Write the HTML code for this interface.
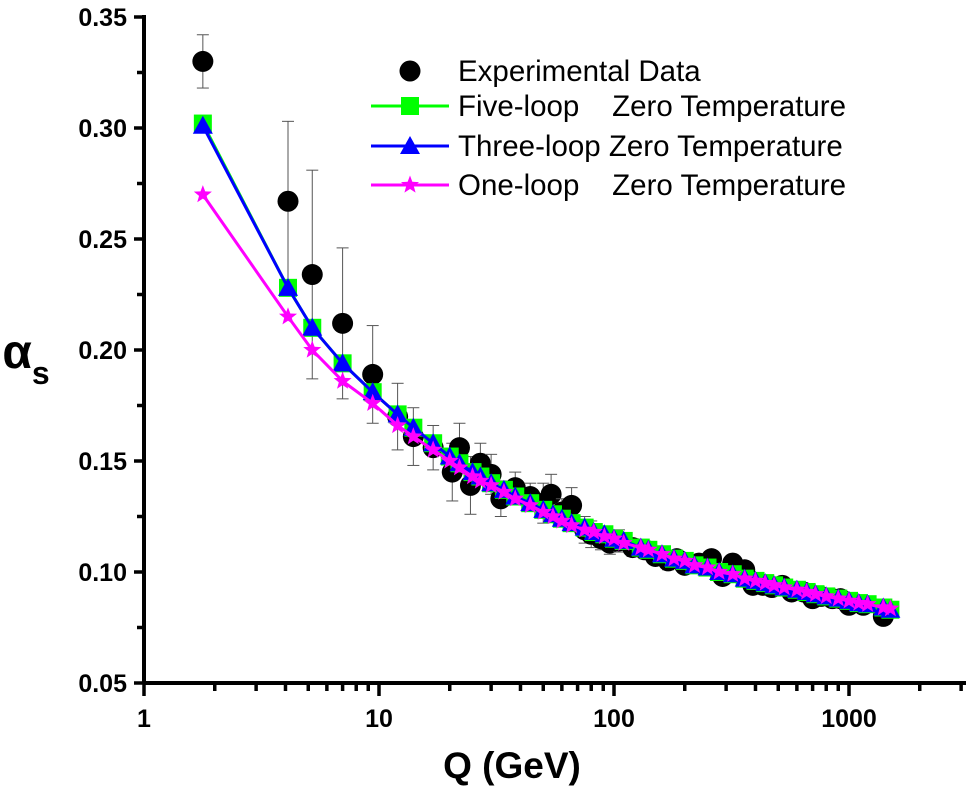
<!DOCTYPE html>
<html><head><meta charset="utf-8"><style>
body{margin:0;background:#fff;}
svg text{font-family:"Liberation Sans",Arial,sans-serif;}
</style></head><body>
<svg id="chart" width="969" height="787" xmlns="http://www.w3.org/2000/svg">
<g id="axes"></g>
<g id="plot"></g>
<g id="legend"></g>
<text x="26" y="368" font-size="48" font-family="Liberation Serif,serif" font-weight="bold" text-anchor="middle">α<tspan font-size="32" dy="16" font-family="Liberation Sans,sans-serif" font-weight="bold">s</tspan></text>
<text x="512" y="778" font-size="37" font-weight="bold" text-anchor="middle">Q (GeV)</text>
</svg>
<script>
const expQ=[1.78,4.1,5.2,7.0,9.4,12,14,17,20.5,22,24.5,27,30,33,38,44,50,54,60,66,75,80,88,96,105,120,135,150,170,185,200,230,260,290,320,360,390,430,470,520,570,640,700,760,850,920,1000,1150,1400];
const expA=[0.330,0.267,0.234,0.212,0.189,0.170,0.161,0.156,0.145,0.156,0.139,0.149,0.144,0.133,0.138,0.134,0.131,0.135,0.127,0.130,0.119,0.117,0.115,0.113,0.114,0.111,0.110,0.107,0.105,0.106,0.103,0.104,0.106,0.098,0.104,0.101,0.094,0.094,0.093,0.094,0.091,0.091,0.088,0.089,0.088,0.088,0.085,0.085,0.080];
const expE=[0.012,0.036,0.047,0.034,0.022,0.015,0.013,0.010,0.013,0.011,0.013,0.009,0.009,0.008,0.007,0.006,0.009,0.009,0.006,0.008,0.006,0.006,0.005,0.005,0.005,0.004,0.004,0.003,0.004,0.003,0.003,0.003,0.002,0.003,0.002,0.003,0.002,0.002,0.002,0.002,0.002,0.002,0.002,0.002,0.002,0.002,0.002,0.002,0.002];
const thQ=[1.78,4.1,5.2,7.0,9.4,12,14,17,20,22,25,27,30,34,38,44,50,55,60,66,75,82,91,100,110,130,140,160,180,200,220,250,280,320,360,400,440,480,530,600,660,720,800,900,1000,1100,1200,1400,1500];
const fiveA=[0.302,0.228,0.210,0.194,0.181,0.171,0.165,0.158,0.152,0.149,0.145,0.143,0.140,0.137,0.134,0.131,0.128,0.126,0.124,0.122,0.120,0.118,0.117,0.115,0.114,0.111,0.110,0.108,0.106,0.105,0.103,0.102,0.100,0.099,0.097,0.096,0.095,0.094,0.093,0.092,0.091,0.090,0.089,0.088,0.087,0.086,0.0855,0.084,0.083];
const threeA=[0.301,0.228,0.210,0.194,0.181,0.171,0.165,0.158,0.152,0.149,0.145,0.143,0.140,0.137,0.134,0.131,0.128,0.126,0.124,0.122,0.120,0.118,0.117,0.115,0.114,0.111,0.110,0.108,0.106,0.105,0.103,0.102,0.100,0.099,0.097,0.096,0.095,0.094,0.093,0.092,0.091,0.090,0.089,0.088,0.087,0.086,0.0855,0.084,0.083];
const oneA=[0.270,0.215,0.200,0.186,0.176,0.166,0.161,0.155,0.150,0.147,0.143,0.141,0.139,0.136,0.133,0.130,0.127,0.125,0.123,0.121,0.119,0.118,0.116,0.115,0.113,0.111,0.110,0.108,0.106,0.105,0.103,0.102,0.100,0.099,0.097,0.096,0.095,0.094,0.093,0.092,0.091,0.090,0.089,0.088,0.087,0.086,0.0855,0.084,0.0835];
const yTicks=[0.05,0.10,0.15,0.20,0.25,0.30,0.35];
const yTickLabels=["0.05","0.10","0.15","0.20","0.25","0.30","0.35"];
const xMajor=[1,10,100,1000];
const xMajorLabels=["1","10","100","1000"];

const NS="http://www.w3.org/2000/svg";
const X0=144,DEC=235,Y0=683,YS=111/0.05;
const xs=q=>X0+Math.log10(q)*DEC;
const ys=a=>Y0-(a-0.05)*YS;
function mk(tag,attrs,parent){const e=document.createElementNS(NS,tag);for(const k in attrs)e.setAttribute(k,attrs[k]);parent.appendChild(e);return e;}
const axes=document.getElementById('axes'),plot=document.getElementById('plot'),leg=document.getElementById('legend');

let ax=mk('line',{x1:X0,y1:Y0,x2:966,y2:Y0,stroke:'#000','stroke-width':4},axes);


let ay=mk('line',{x1:X0,y1:Y0,x2:X0,y2:15,stroke:'#000','stroke-width':4},axes);


yTicks.forEach((v,i)=>{
  const y=ys(v);
  let t=mk('line',{x1:X0-10,y1:y,x2:X0,y2:y,stroke:'#000','stroke-width':3.5},axes);
  
  
  let l=mk('text',{x:X0-17,y:y+9,'font-size':25,'font-weight':'bold','text-anchor':'end'},axes);
  l.textContent=yTickLabels[i];
  
  
  if(i<yTicks.length-1){
    const ym=ys(v+0.025);
    let m=mk('line',{x1:X0-7,y1:ym,x2:X0,y2:ym,stroke:'#000','stroke-width':3.5},axes);
    
    
  }
});
xMajor.forEach((v,i)=>{
  const x=xs(v);
  let t=mk('line',{x1:x,y1:Y0,x2:x,y2:Y0+13,stroke:'#000','stroke-width':3.5},axes);
  
  
  let l=mk('text',{x:x,y:Y0+44,'font-size':25,'font-weight':'bold','text-anchor':'middle'},axes);
  l.textContent=xMajorLabels[i];
  
  
  for(let k=2;k<=9;k++){
    const q=v*k; if(q>3200)break;
    const xm=xs(q);
    let m=mk('line',{x1:xm,y1:Y0,x2:xm,y2:Y0+8,stroke:'#000','stroke-width':3.5},axes);
    
    
  }
});

expQ.forEach((q,i)=>{
  const x=xs(q),y=ys(expA[i]),yt=ys(expA[i]+expE[i]),yb=ys(expA[i]-expE[i]);
  const g=mk('g',{},plot);
  
  
  mk('line',{x1:x,y1:yt,x2:x,y2:yb,stroke:'#555','stroke-width':1},g);
  mk('line',{x1:x-6,y1:yt,x2:x+6,y2:yt,stroke:'#555','stroke-width':1},g);
  mk('line',{x1:x-6,y1:yb,x2:x+6,y2:yb,stroke:'#555','stroke-width':1},g);
  mk('circle',{cx:x,cy:y,r:10.5,fill:'#000'},g);
});
function series(vals,color,name,marker){
  const pts=thQ.map((q,i)=>xs(q)+','+ys(vals[i])).join(' ');
  let pl=mk('polyline',{points:pts,fill:'none',stroke:color,'stroke-width':3},plot);
  
  
  thQ.forEach((q,i)=>{
    const m=marker(xs(q),ys(vals[i]),plot);
    
    
  });
}
const sq=(x,y,p)=>mk('rect',{x:x-9,y:y-9,width:18,height:18,fill:'#00ff00'},p);
const tri=(x,y,p)=>mk('polygon',{points:`${x},${y-10} ${x+10},${y+8} ${x-10},${y+8}`,fill:'#0000ff'},p);
function star(x,y,p){let s='';for(let k=0;k<10;k++){const r=k%2?4:9.5,a=-Math.PI/2+k*Math.PI/5;s+=(x+r*Math.cos(a))+','+(y+r*Math.sin(a))+' ';}return mk('polygon',{points:s,fill:'#ff00ff'},p);}
series(fiveA,'#00ff00','five-loop',sq);
series(threeA,'#0000ff','three-loop',tri);
series(oneA,'#ff00ff','one-loop',star);

const entries=[["Experimental Data",null,(x,y,p)=>mk('circle',{cx:x,cy:y,r:10.5,fill:'#000'},p)],
["Five-loop    Zero Temperature",'#00ff00',sq],
["Three-loop Zero Temperature",'#0000ff',tri],
["One-loop    Zero Temperature",'#ff00ff',star]];
const ly=[71,106,146,185];
entries.forEach((e,i)=>{
  const g=mk('g',{},leg);
  
  
  if(e[1])mk('line',{x1:371,y1:ly[i],x2:449,y2:ly[i],stroke:e[1],'stroke-width':3},g);
  e[2](410,ly[i],g);
  const t=mk('text',{x:458,y:ly[i]+10,'font-size':29.5},g);
  t.setAttribute('style','white-space:pre');
  t.textContent=e[0];
});
</script>
</body></html>
